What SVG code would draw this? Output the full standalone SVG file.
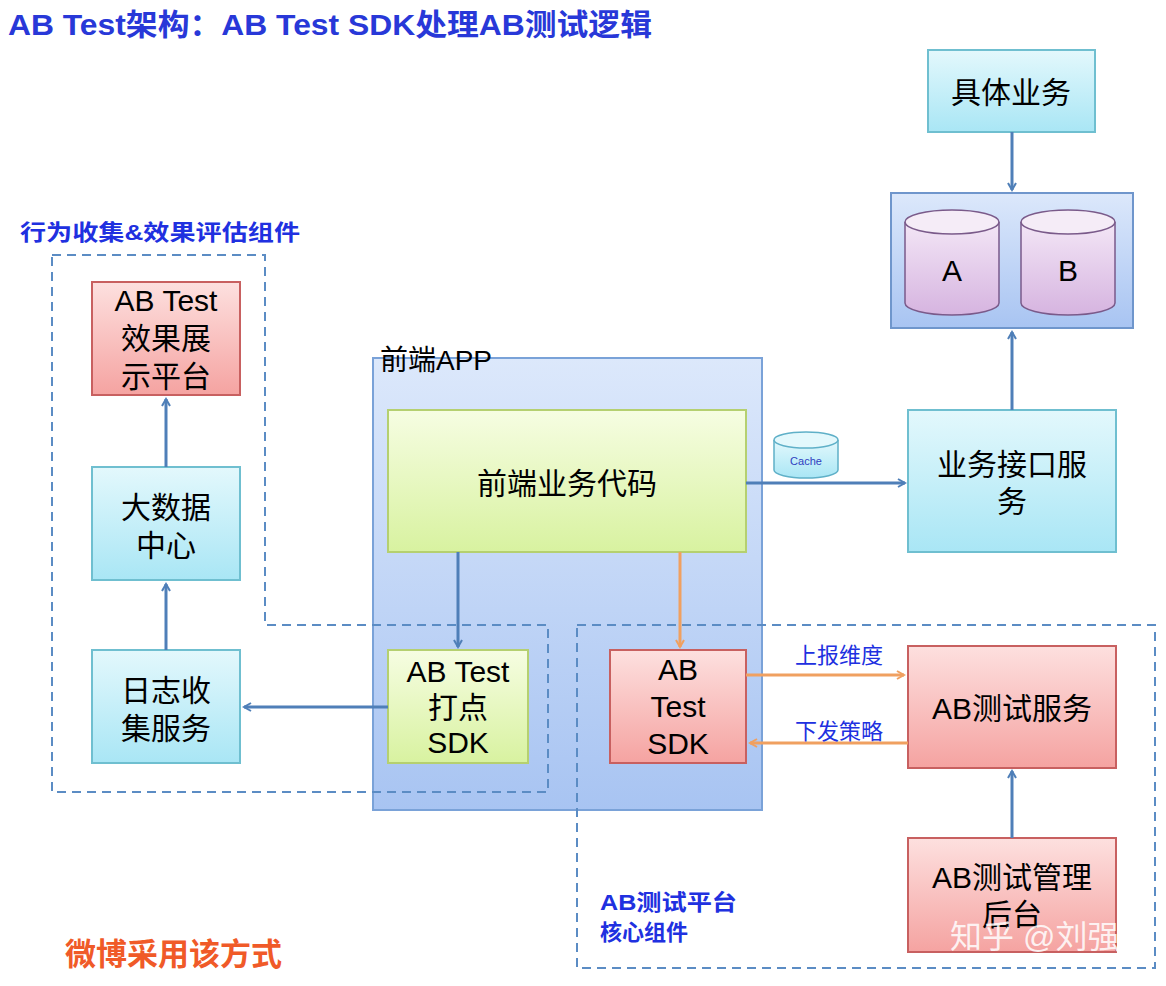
<svg xmlns="http://www.w3.org/2000/svg" width="1166" height="986" viewBox="0 0 1166 986">
<defs>
<linearGradient id="cyan" x1="0" y1="0" x2="0" y2="1"><stop offset="0" stop-color="#e3f8fc"/><stop offset="1" stop-color="#a9e6f5"/></linearGradient>
<linearGradient id="red" x1="0" y1="0" x2="0" y2="1"><stop offset="0" stop-color="#fde0df"/><stop offset="1" stop-color="#f5a3a1"/></linearGradient>
<linearGradient id="green" x1="0" y1="0" x2="0" y2="1"><stop offset="0" stop-color="#f6fde2"/><stop offset="1" stop-color="#d8f2a0"/></linearGradient>
<linearGradient id="blue" x1="0" y1="0" x2="0" y2="1"><stop offset="0" stop-color="#dce8fb"/><stop offset="1" stop-color="#a8c4f2"/></linearGradient>
<linearGradient id="purple" x1="0" y1="0" x2="0" y2="1"><stop offset="0" stop-color="#f3e6f6"/><stop offset="1" stop-color="#d6b4e0"/></linearGradient>
<marker id="ab" markerWidth="10" markerHeight="10" refX="8" refY="5" orient="auto" markerUnits="userSpaceOnUse"><path d="M1,1 L8,5 L1,9" fill="none" stroke="#4f7fb8" stroke-width="2"/></marker>
<marker id="ao" markerWidth="10" markerHeight="10" refX="8" refY="5" orient="auto" markerUnits="userSpaceOnUse"><path d="M1,1 L8,5 L1,9" fill="none" stroke="#f0a060" stroke-width="2"/></marker>
</defs>
<style>
text{font-family:"Liberation Sans","Noto Sans CJK SC",sans-serif;}
.n{font-size:30px;fill:#000;text-anchor:middle;}
.bl{stroke:#4f7fb8;stroke-width:3;fill:none;marker-end:url(#ab);}
.or{stroke:#f0a060;stroke-width:3;fill:none;marker-end:url(#ao);}
.dash{fill:none;stroke:#5b8cc4;stroke-width:2;stroke-dasharray:9,6;}
.lbl{fill:#2030e0;font-size:22px;font-weight:bold;}
</style>
<rect width="1166" height="986" fill="#fff"/>
<text x="8" y="35" font-size="30" font-weight="bold" fill="#2838d8" textLength="644" lengthAdjust="spacingAndGlyphs">AB Test架构：AB Test SDK处理AB测试逻辑</text>

<g id="app"><rect x="373" y="358" width="389" height="452" fill="url(#blue)" stroke="#7aa2d8" stroke-width="2"/><text x="380" y="370" font-size="28">前端APP</text></g>

<g id="left-region"><path class="dash" d="M52,255 H265 V625 H548 V792 H52 Z"/><text class="lbl" x="20" y="240" textLength="280" lengthAdjust="spacingAndGlyphs">行为收集&amp;效果评估组件</text></g>
<g id="right-region"><path class="dash" d="M577,625 H1155 V968 H577 Z"/><text class="lbl" x="600" y="910" textLength="137" lengthAdjust="spacingAndGlyphs">AB测试平台</text><text class="lbl" x="600" y="940">核心组件</text></g>

<g id="biz"><rect x="928" y="50" width="167" height="82" fill="url(#cyan)" stroke="#6fbfd0" stroke-width="2"/><text class="n" x="1011" y="103">具体业务</text></g>
<g id="ab-db"><rect x="891" y="193" width="242" height="135" fill="url(#blue)" stroke="#6f96cc" stroke-width="2"/>
<path d="M905,222 V303 A47,12 0 0 0 999,303 V222" fill="url(#purple)" stroke="#7a5a8a" stroke-width="1.5"/><ellipse cx="952" cy="222" rx="47" ry="12" fill="#f5ecf7" stroke="#7a5a8a" stroke-width="1.5"/><text class="n" x="952" y="281">A</text>
<path d="M1021,222 V303 A47,12 0 0 0 1115,303 V222" fill="url(#purple)" stroke="#7a5a8a" stroke-width="1.5"/><ellipse cx="1068" cy="222" rx="47" ry="12" fill="#f5ecf7" stroke="#7a5a8a" stroke-width="1.5"/><text class="n" x="1068" y="281">B</text></g>
<g id="api"><rect x="908" y="410" width="208" height="142" fill="url(#cyan)" stroke="#6fbfd0" stroke-width="2"/><text class="n" x="1012" y="475">业务接口服</text><text class="n" x="1012" y="512">务</text></g>
<g id="front"><rect x="388" y="410" width="358" height="142" fill="url(#green)" stroke="#b5d070" stroke-width="2"/><text class="n" x="567" y="494">前端业务代码</text></g>
<g id="cache"><path d="M774,440 V470 A32,8 0 0 0 838,470 V440" fill="url(#cyan)" stroke="#5fb0c8" stroke-width="1.5"/><ellipse cx="806" cy="440" rx="32" ry="8" fill="#e3f8fc" stroke="#5fb0c8" stroke-width="1.5"/><text x="806" y="465" font-size="11" fill="#3040c0" text-anchor="middle">Cache</text></g>
<g id="track"><rect x="388" y="650" width="140" height="113" fill="url(#green)" stroke="#b5d070" stroke-width="2"/><text class="n" x="458" y="682" font-size="28">AB Test</text><text class="n" x="458" y="718">打点</text><text class="n" x="458" y="753">SDK</text></g>
<g id="sdk"><rect x="610" y="650" width="136" height="113" fill="url(#red)" stroke="#c86060" stroke-width="2"/><text class="n" x="678" y="680">AB</text><text class="n" x="678" y="717">Test</text><text class="n" x="678" y="754">SDK</text></g>
<g id="absvc"><rect x="908" y="646" width="208" height="122" fill="url(#red)" stroke="#c86060" stroke-width="2"/><text class="n" x="1012" y="719">AB测试服务</text></g>
<g id="admin"><rect x="908" y="838" width="208" height="114" fill="url(#red)" stroke="#c86060" stroke-width="2"/><text class="n" x="1012" y="888">AB测试管理</text><text class="n" x="1012" y="925">后台</text></g>
<g id="show"><rect x="92" y="282" width="148" height="113" fill="url(#red)" stroke="#c86060" stroke-width="2"/><text class="n" x="166" y="311">AB Test</text><text class="n" x="166" y="349">效果展</text><text class="n" x="166" y="387">示平台</text></g>
<g id="bigdata"><rect x="92" y="467" width="148" height="113" fill="url(#cyan)" stroke="#6fbfd0" stroke-width="2"/><text class="n" x="166" y="518">大数据</text><text class="n" x="166" y="556">中心</text></g>
<g id="log"><rect x="92" y="650" width="148" height="113" fill="url(#cyan)" stroke="#6fbfd0" stroke-width="2"/><text class="n" x="166" y="701">日志收</text><text class="n" x="166" y="739">集服务</text></g>

<g id="connectors">
<path class="bl" d="M1012,132 V190"/>
<path class="bl" d="M1012,410 V332"/>
<path class="bl" d="M746,483 H905"/>
<path class="bl" d="M458,552 V647"/>
<path class="or" d="M680,552 V647"/>
<path class="or" d="M746,675 H904"/>
<path class="or" d="M908,743 H750"/>
<path class="bl" d="M1012,838 V771"/>
<path class="bl" d="M388,707 H244"/>
<path class="bl" d="M166,650 V584"/>
<path class="bl" d="M166,467 V399"/>
<text class="lbl" x="795" y="663" font-size="18" style="font-weight:normal">上报维度</text>
<text class="lbl" x="795" y="739" font-size="18" style="font-weight:normal">下发策略</text>
</g>
<text x="65" y="965" font-size="31" font-weight="bold" fill="#f05a28">微博采用该方式</text>
<text x="950" y="948" font-size="32" fill="#fff" fill-opacity="0.85">知乎 @刘强</text>
</svg>
